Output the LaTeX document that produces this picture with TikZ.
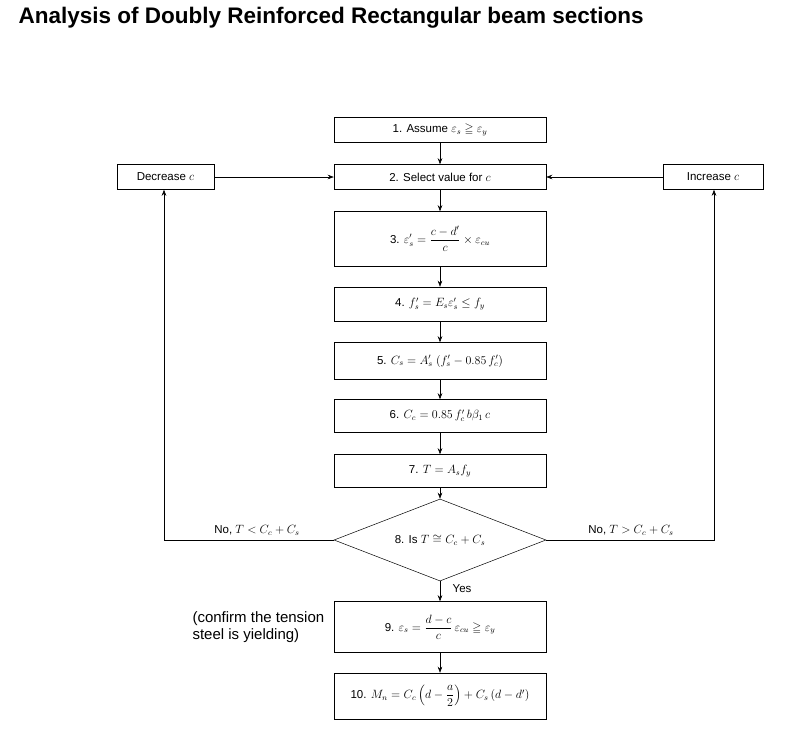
\documentclass[tikz,border=0pt]{standalone}
\usepackage{amsmath,amssymb}
\usepackage{fontspec}
\setmainfont{Liberation Sans}
\usetikzlibrary{shapes.geometric,arrows.meta}
\begin{document}
\begin{tikzpicture}[x=1pt,y=-1pt,
  box/.style={draw,line width=0.5pt,minimum width=212pt,font=\fontsize{11.5}{13}\selectfont,inner sep=0pt},
  arr/.style={-{Stealth[length=6pt,width=4.5pt]},line width=0.5pt},
  lbl/.style={font=\fontsize{11.5}{13}\selectfont}]
\useasboundingbox (0,0) rectangle (786,744);
\node[anchor=west,font=\bfseries\fontsize{22.5}{26}\selectfont] (title) at (15,18) {Analysis of Doubly Reinforced Rectangular beam sections};
\node[box,minimum height=25pt] (b1) at (440,130) {1. Assume $\varepsilon_s\geqq\varepsilon_y$};
\node[box,minimum height=25pt] (b2) at (440,177) {2. Select value for $c$};
\node[box,minimum height=55pt] (b3) at (440,239) {3. $\varepsilon'_s=\dfrac{c-d'}{c}\times\varepsilon_{cu}$};
\node[box,minimum height=34pt] (b4) at (440,304) {4. $f'_s=E_s\varepsilon'_s\leq f_y$};
\node[box,minimum height=37pt] (b5) at (440,361) {5. $C_s=A'_s\;(f'_s-0.85\,f'_c)$};
\node[box,minimum height=33pt] (b6) at (440,416) {6. $C_c=0.85\,f'_c\,b\beta_1\,c$};
\node[box,minimum height=33pt] (b7) at (440,471) {7. $T=A_sf_y$};
\node[draw,diamond,aspect=2.6,minimum width=212pt,minimum height=82pt,inner sep=0pt,line width=0.5pt,font=\fontsize{11.5}{13}\selectfont] (b8) at (440,540) {8. Is $T\cong C_c+C_s$};
\node[box,minimum height=51pt] (b9) at (440,627) {9. $\varepsilon_s=\dfrac{d-c}{c}\,\varepsilon_{cu}\geqq\varepsilon_y$};
\node[box,minimum height=46pt] (b10) at (440,696) {10. $M_n=C_c\left(d-\dfrac{a}{2}\right)+C_s\,(d-d')$};
\node[draw,line width=0.5pt,minimum width=97pt,minimum height=25pt,font=\fontsize{11.5}{13}\selectfont] (dec) at (165.5,177) {Decrease $c$};
\node[draw,line width=0.5pt,minimum width=100pt,minimum height=25pt,font=\fontsize{11.5}{13}\selectfont] (inc) at (713,177) {Increase $c$};
\foreach \a/\b in {b1/b2,b2/b3,b3/b4,b4/b5,b5/b6,b6/b7,b7/b8,b8/b9,b9/b10} \draw[arr] (\a) -- (\b);
\draw[arr] (dec) -- (b2);
\draw[arr] (inc) -- (b2);
\coordinate (lc) at (164,540);
\coordinate (rc) at (714,540);
\draw[arr] (b8.west) -- (lc) -- (dec.south -| lc);
\draw[arr] (b8.east) -- (rc) -- (inc.south -| rc);
\node[lbl] (nol) at (257,530) {No, $T<C_c+C_s$};
\node[lbl] (nor) at (631,530) {No, $T>C_c+C_s$};
\node[lbl] (yes) at (462,589) {Yes};
\node[align=left,anchor=west,font=\fontsize{15}{17}\selectfont] (conf) at (189,627) {(confirm the tension\\steel is yielding)};
\end{tikzpicture}
\end{document}
